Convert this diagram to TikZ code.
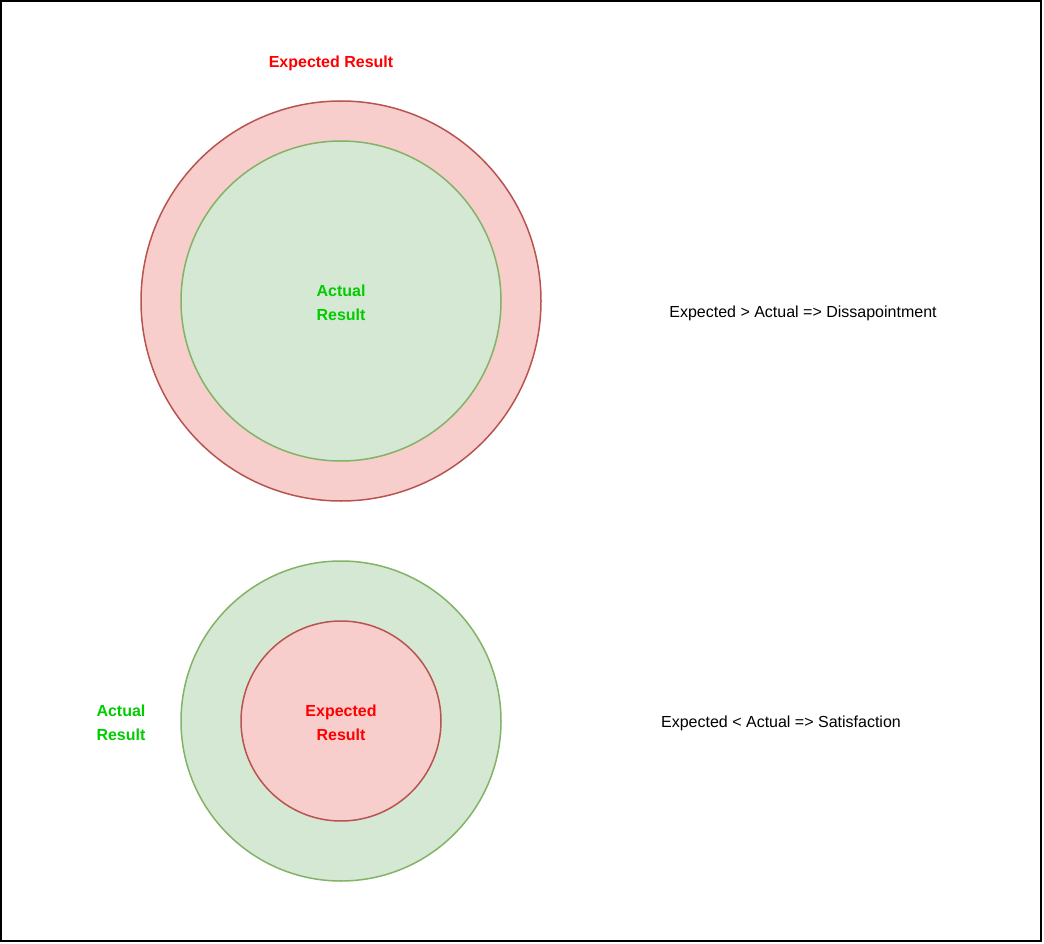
\documentclass[tikz,border=0pt]{standalone}
\usepackage{fontspec}
\setmainfont{Liberation Sans}
\definecolor{pinkf}{HTML}{F8CECC}\definecolor{pinkd}{HTML}{B85450}
\definecolor{greenf}{HTML}{D5E8D4}\definecolor{greend}{HTML}{82B366}
\definecolor{redt}{HTML}{FF0000}\definecolor{greent}{HTML}{00CC00}
\tikzset{pinkc/.style={circle,fill=pinkf,draw=pinkd,line width=1.5pt,inner sep=0pt},
greenc/.style={circle,fill=greenf,draw=greend,line width=1.5pt,inner sep=0pt},
lbl/.style={font=\fontsize{16}{24}\selectfont\bfseries,align=center},
note/.style={font=\fontsize{16}{24}\selectfont}}
\begin{document}
\begin{tikzpicture}[x=1pt,y=-1pt]
\useasboundingbox (0,0) rectangle (1044,944);
\draw[line width=1.5pt] (1,1) rectangle (1041,941);
\node[pinkc,minimum size=400pt] (bp) at (341,301) {};
\node[greenc,minimum size=320pt] (bg) at (341,301) {};
\node[lbl,text=greent] (a1) at (341,303) {Actual\\Result};
\node[lbl,text=redt] (e1) at (331,63) {Expected Result};
\node[note] (n1) at (803,313) {Expected > Actual => Dissapointment};
\node[greenc,minimum size=320pt] (sg) at (341,721) {};
\node[pinkc,minimum size=200pt] (sp) at (341,721) {};
\node[lbl,text=redt] (e2) at (341,723) {Expected\\Result};
\node[lbl,text=greent] (a2) at (121,723) {Actual\\Result};
\node[note] (n2) at (781,723) {Expected < Actual => Satisfaction};
\end{tikzpicture}
\end{document}
